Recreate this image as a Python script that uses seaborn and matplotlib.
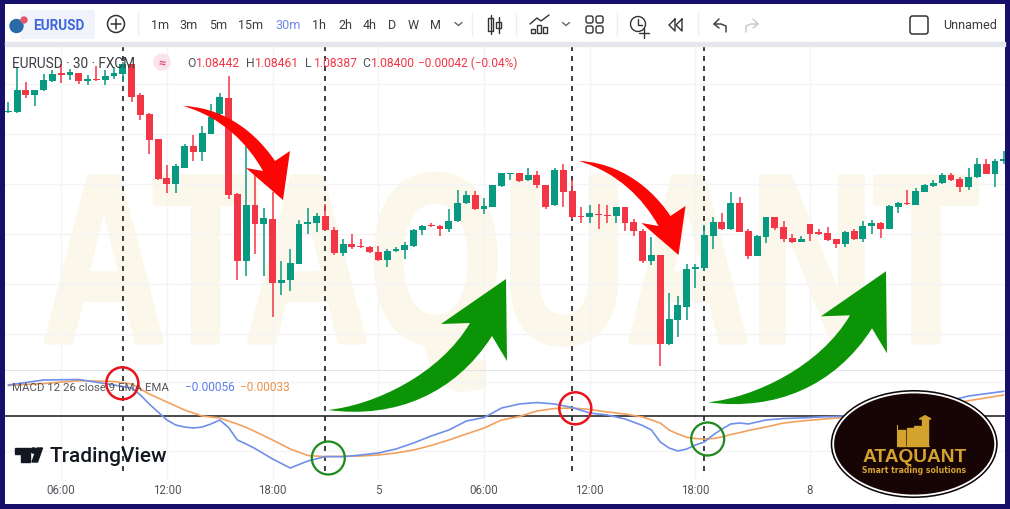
"""
EURUSD 30 minute candles with MACD pane, TradingView style screenshot
"""

import numpy as np
import pandas as pd
import matplotlib.pyplot as plt
import matplotlib.patheffects as pe
from matplotlib.patches import Circle, Ellipse, FancyBboxPatch, PathPatch, Polygon, Rectangle
from matplotlib.path import Path
from matplotlib.transforms import Affine2D
import seaborn as sns

sns.set_style("white")
plt.rcParams['font.family'] = ['Roboto', 'DejaVu Sans']

# candle prices, in points above 1.08000
opens = [773, 773, 818, 807, 817, 836, 851, 847, 852, 835, 839, 837, 845, 850, 870, 807, 769, 719, 642, 630,
         663, 705, 693, 730, 770, 802, 609, 475, 588, 549, 561, 433, 437, 470, 551, 552, 565, 538, 492, 509,
         505, 503, 493, 478, 495, 498, 506, 537, 547, 545, 540, 555, 591, 607, 579, 585, 625, 650, 651, 637,
         647, 628, 587, 657, 615, 565, 563, 570, 567, 566, 584, 554, 536, 475, 487, 309, 358, 385, 459, 461,
         525, 553, 539, 592, 535, 487, 523, 563, 544, 521, 514, 549, 533, 532, 519, 509, 535, 519, 545, 552,
         541, 585, 592, 588, 614, 625, 631, 648, 640, 623, 643, 670, 650, 675]
highs = [794, 864, 834, 818, 850, 858, 870, 859, 852, 847, 865, 857, 864, 874, 870, 811, 771, 720, 668, 670,
         710, 727, 745, 790, 812, 845, 612, 705, 647, 582, 613, 475, 500, 557, 582, 572, 590, 543, 521, 531,
         520, 507, 507, 499, 503, 513, 540, 548, 552, 547, 579, 617, 615, 616, 601, 628, 653, 653, 653, 661,
         655, 629, 663, 669, 639, 583, 588, 590, 588, 585, 585, 559, 541, 523, 487, 412, 405, 470, 470, 548,
         565, 572, 613, 603, 541, 527, 564, 564, 555, 529, 526, 550, 541, 543, 520, 535, 540, 555, 558, 553,
         588, 593, 617, 621, 630, 637, 652, 652, 643, 663, 682, 680, 679, 697]
lows = [772, 772, 802, 786, 816, 834, 832, 837, 830, 827, 836, 828, 840, 834, 795, 757, 690, 639, 612, 611,
        662, 675, 676, 730, 753, 599, 437, 445, 489, 445, 363, 409, 415, 470, 529, 533, 535, 488, 487, 499,
        501, 492, 477, 464, 494, 479, 503, 527, 543, 525, 533, 554, 590, 578, 569, 584, 624, 637, 633, 635,
        621, 580, 586, 585, 559, 552, 552, 540, 552, 552, 536, 525, 472, 468, 265, 308, 323, 357, 422, 455,
        500, 538, 538, 533, 480, 485, 512, 537, 513, 512, 513, 517, 527, 517, 502, 503, 518, 513, 529, 522,
        540, 571, 588, 587, 613, 624, 630, 635, 613, 617, 642, 649, 623, 670]
closes = [774, 818, 807, 818, 837, 850, 848, 853, 835, 839, 837, 846, 851, 870, 805, 767, 718, 640, 630, 665,
          705, 693, 731, 763, 803, 608, 475, 588, 549, 561, 433, 437, 471, 551, 553, 565, 537, 492, 509, 504,
          503, 493, 478, 496, 499, 508, 538, 545, 545, 541, 555, 592, 607, 579, 586, 627, 651, 652, 636, 647,
          627, 585, 657, 613, 563, 563, 571, 567, 566, 584, 552, 535, 475, 487, 310, 360, 387, 460, 463, 527,
          553, 539, 591, 533, 487, 525, 563, 542, 519, 513, 519, 531, 531, 518, 509, 534, 519, 546, 552, 541,
          586, 592, 589, 615, 627, 632, 648, 639, 623, 643, 670, 650, 676, 679]

# MACD pane, read at these candles, in units of 0.00001
macd_candles = [0, 4, 8, 12, 14, 15, 16, 17, 18, 19, 20, 21, 22, 23, 24, 25, 26, 27, 28, 30, 32, 34, 36, 38, 40, 42,
                44, 46, 48, 50, 52, 54, 56, 58, 60, 62, 64, 66, 68, 70, 72, 73, 74, 75, 76, 77, 78, 79, 80, 81, 82,
                83, 84, 86, 88, 90, 92, 94, 96, 100, 104, 109, 113]
macd_line = [31, 36, 36.5, 31, 28, 21, 12, 4, -4, -9, -11, -12, -11, -8, -4, -11.5, -24, -28, -32.5, -43, -52, -45,
             -40.5, -40.7, -39, -37, -33, -27, -20, -14, -5, -1.5, 8, 12, 13.5, 12, 8.5, 3, 1, -3, -9.5, -14, -26,
             -32, -35, -33, -29, -26, -19, -13, -8, -7, -8, -4, -2.5, -2, -1, -0.5, 1, 5, 9, 20, 24.7]
signal_line = [30.5, 32.5, 35.3, 34.5, 32, 27, 22, 18, 14, 10, 6, 3, 0, -1, -2, -5, -8, -11.5, -15.5, -24, -33, -39.5,
               -40.7, -40.3, -40, -39, -37, -34, -29.5, -24, -18, -12, -4, -0.5, 5, 7.5, 8, 6.5, 4, 2, -1, -4, -7,
               -14, -18, -21.3, -22.5, -23, -22.5, -21, -18.5, -16.7, -14.5, -11, -7, -5, -3.5, -2, -1, 2, 6, 15.3, 21]

tick_candles = [6, 18, 30, 42, 54, 66, 78, 91]
tick_labels = ['06:00', '12:00', '18:00', '5', '06:00', '12:00', '18:00', '8']
signal_candles = [13, 36, 64, 79]
intervals = ['1m', '3m', '5m', '15m', '30m', '1h', '2h', '4h', 'D', 'W', 'M']
ohlc_readout = [('O', '1.08442'), ('H', '1.08461'), ('L', '1.08387'), ('C', '1.08400')]

W, H = 1010, 510
NAVY = '#17106a'
RED = '#f23645'
GREEN = '#089981'
GREY = '#4f5159'
GOLD = '#d3a32e'


class StretchText(pe.AbstractPathEffect):
    """Stretch and thicken the glyphs of a text about its baseline"""

    def __init__(self, sx, sy, stroke):
        super().__init__()
        self.sx = sx
        self.sy = sy
        self.stroke = stroke

    def draw_path(self, renderer, gc, tpath, affine, rgbFace=None):
        gc0 = renderer.new_gc()
        gc0.copy_properties(gc)
        gc0.set_linewidth(self.stroke)
        gc0.set_joinstyle('round')
        renderer.draw_path(gc0, tpath, Affine2D().scale(self.sx, self.sy) + affine, rgbFace)
        gc0.restore()


def pane(left, top, right, bottom, zorder):
    """Axes placed by its pixel box"""
    ax = fig.add_axes([left / W, 1 - bottom / H, (right - left) / W, (bottom - top) / H], zorder=zorder)
    ax.patch.set_alpha(0)
    return ax


def draw_candles(ax):
    o, h, l, c = [1.08 + np.array(v) * 1e-5 for v in (opens, highs, lows, closes)]
    x = np.arange(len(o))
    colors = [GREEN if cl >= op else RED for op, cl in zip(o, c)]
    ax.vlines(x, l, h, colors=colors, linewidth=1.1, zorder=3)
    ax.bar(x, np.maximum(np.abs(c - o), 2e-5), bottom=np.minimum(o, c), width=0.78, color=colors, linewidth=0, zorder=3)


def draw_macd(ax):
    df = pd.DataFrame({'candle': macd_candles,
                       'macd': np.array(macd_line) * 1e-5,
                       'signal': np.array(signal_line) * 1e-5})
    sns.lineplot(data=df, x='candle', y='signal', ax=ax, color='#f2a15f', linewidth=1.2, zorder=3)
    sns.lineplot(data=df, x='candle', y='macd', ax=ax, color='#6f8fe8', linewidth=1.2, zorder=3)
    ax.axhline(0, color='#2a2a2e', linewidth=1.2, zorder=2)


def curved_arrow(ax, dx, dy, start, out1, out2, out_end, head, in1, in2, color):
    """Block arrow with a curved shaft, shifted by dx, dy"""
    verts = [start, out1, out2, out_end] + head + [in1, in2, start, start]
    codes = [Path.MOVETO, Path.CURVE4, Path.CURVE4, Path.CURVE4] + [Path.LINETO] * len(head) + \
            [Path.CURVE4, Path.CURVE4, Path.CURVE4, Path.CLOSEPOLY]
    verts = [(x + dx, y + dy) for x, y in verts]
    ax.add_patch(PathPatch(Path(verts, codes), facecolor=color, edgecolor='none', zorder=6))


def draw_arrows(ax):
    for dx, dy in [(0, 0), (395.5, 55)]:
        curved_arrow(ax, dx, dy, (183, 107), (215, 108), (250, 125), (275, 162),
                     [(290, 152), (283, 201), (246, 169), (263, 172)], (248, 145), (222, 118), '#fb0505')
    for dx, dy in [(0, 0), (380, -7.7)]:
        curved_arrow(ax, dx, dy, (328, 411), (375, 406), (440, 375), (470, 324),
                     [(441, 325), (506, 280), (507, 362), (492, 337)], (455, 395), (395, 420), '#0b9406')


def draw_toolbar(ax):
    ax.add_patch(Rectangle((5, 43), 1000, 4, color='#e6e7ee', zorder=1))
    ax.add_patch(FancyBboxPatch((20, 11), 75, 29, boxstyle='round,pad=0,rounding_size=3', fc='#f1f3fb', ec='none'))
    ax.add_patch(Circle((16.5, 27), 6.5, color='#2a6aa8'))
    ax.add_patch(Circle((24, 21), 3, color='#e2566a'))
    ax.text(33, 25.5, 'EURUSD', color='#3f66dd', fontsize=9.8, fontweight='bold', va='center')
    ax.add_patch(Circle((116, 25), 8.5, fc='none', ec='#333', lw=1.1))
    ax.plot([111, 121], [25, 25], color='#333', lw=1.1)
    ax.plot([116, 116], [20, 30], color='#333', lw=1.1)
    for x in [138, 472, 516, 616.5, 697.5]:
        ax.plot([x, x], [14, 36], color='#eeeeef', lw=1)
    positions = [160, 189, 218, 251, 288, 319, 345, 370, 392.5, 413, 435]
    for label, x in zip(intervals, positions):
        ax.text(x, 25.5, label, fontsize=9, ha='center', va='center', color='#7088e8' if label == '30m' else '#3a3b42')
    for x in [458.5, 566]:
        ax.plot([x - 3.5, x, x + 3.5], [23.5, 26.5, 23.5], color='#666', lw=1)

    # candle type icon
    for x, low, high, top, bottom in [(490.5, 16, 35, 19, 32), (498.5, 18, 34, 23, 29)]:
        ax.plot([x, x], [low, high], color='#333', lw=1)
        ax.add_patch(Rectangle((x - 2.5, top), 5, bottom - top, fc='white', ec='#333', lw=1))
    # indicators icon
    ax.plot([530, 537, 541, 549], [25, 19, 22, 16], color='#333', lw=1)
    for x, top in [(531, 30), (537, 26), (543, 28)]:
        ax.add_patch(Rectangle((x, top), 4, 34 - top, fc='none', ec='#333', lw=1))
    # layout icon
    for x in [586, 596]:
        for y in [17, 27]:
            ax.add_patch(FancyBboxPatch((x, y), 7, 7, boxstyle='round,pad=0,rounding_size=2', fc='none', ec='#333', lw=1))
    # alarm icon
    ax.add_patch(Circle((638, 25), 7.5, fc='none', ec='#333', lw=1))
    ax.plot([638, 638, 642], [20, 26, 26], color='#333', lw=1)
    ax.plot([644, 644], [29, 39], color='#333', lw=1)
    ax.plot([639, 649], [34, 34], color='#333', lw=1)
    # replay icon
    ax.plot([675, 669, 675, 675], [20, 26, 32, 20], color='#333', lw=1)
    ax.plot([682, 676, 682, 682], [20, 26, 32, 20], color='#333', lw=1)
    # undo and redo
    ax.plot([726, 726, 721, 714, 719], [33, 27, 25, 25, 20], color='#444', lw=1.1)
    ax.plot([714, 719], [25, 29], color='#444', lw=1.1)
    ax.plot([746, 746, 751, 758, 753], [33, 27, 25, 25, 20], color='#ccc', lw=1.1)
    ax.plot([758, 753], [25, 29], color='#ccc', lw=1.1)
    ax.add_patch(FancyBboxPatch((910, 17), 18, 18, boxstyle='round,pad=0,rounding_size=2.5', fc='none', ec='#333', lw=1.1))
    ax.text(970, 25.5, 'Unnamed', fontsize=9, ha='center', va='center', color='#3a3b42')


def draw_legends(ax):
    ax.text(12, 63.5, 'EURUSD · 30 · FXCM', fontsize=9.8, va='center', color='#3b3c42')
    ax.add_patch(Circle((162, 63), 8, color='#fae3ec'))
    ax.text(162, 63, '≈', fontsize=9, ha='center', va='center', color='#e04f87', fontweight='bold')
    for (name, value), x in zip(ohlc_readout, [187, 246, 305, 362]):
        ax.text(x, 63.5, name, fontsize=8.7, va='center', color=GREY)
        ax.text(x + 9, 63.5, value, fontsize=8.7, va='center', color=RED)
    ax.text(418, 63.5, '−0.00042 (−0.04%)', fontsize=8.6, va='center', color=RED)
    ax.text(12, 388, 'MACD 12 26 close 9 EMA EMA', fontsize=8.2, va='center', color='#55565c')
    ax.text(185, 388, '−0.00056', fontsize=8.6, va='center', color='#5b7fe6')
    ax.text(240, 388, '−0.00033', fontsize=8.6, va='center', color='#ee9148')


def draw_markers(ax):
    ax.add_patch(Circle((122.3, 384.3), 16, fc='none', ec='#e8141c', lw=1.8, zorder=7))
    ax.add_patch(Circle((575.3, 409.3), 16, fc='none', ec='#e8141c', lw=1.8, zorder=7))
    ax.add_patch(Circle((328.3, 459), 16.5, fc='none', ec='#1d8a1d', lw=1.6, zorder=7))
    ax.add_patch(Circle((707.7, 440), 16.5, fc='none', ec='#1d8a1d', lw=1.6, zorder=7))


def draw_tradingview(ax):
    ink = '#131722'
    ax.add_patch(Polygon([(15, 449), (30, 449), (30, 463), (21, 463), (21, 454.5), (15, 454.5)], color=ink))
    ax.add_patch(Circle((33.5, 451.5), 2.6, color=ink))
    ax.add_patch(Polygon([(32, 463), (37, 449), (42.5, 449), (37.5, 463)], color=ink))
    ax.text(50, 456.5, 'TradingView', fontsize=15, fontweight='medium', va='center', color=ink)


def draw_badge(ax):
    ax.add_patch(Ellipse((914.2, 445), 167, 108, fc='#0c0506', ec='none', zorder=8))
    ax.add_patch(Ellipse((914.2, 445), 162, 103, fc='#170506', ec='white', lw=1.3, zorder=8))
    for x, top in [(898.3, 431), (906.7, 429.3), (914.3, 427.3), (921.7, 420)]:
        ax.add_patch(Rectangle((x, top), 6.5, 446.7 - top, color=GOLD, zorder=9))
    ax.plot([896.7, 896.7, 929], [426, 446.7, 446.7], color=GOLD, lw=0.8, zorder=9)
    ax.add_patch(Polygon([(919.3, 420), (925, 416.7), (931, 420)], color=GOLD, zorder=9))
    ax.text(914.2, 457.5, 'ATAQUANT', fontsize=13.8, fontweight='bold', ha='center', va='center', color=GOLD,
            family=['Liberation Sans'], zorder=9)
    ax.text(914.5, 470.5, 'Smart trading solutions', fontsize=5.6, fontweight='bold', ha='center', va='center',
            color=GOLD, family=['DejaVu Sans'], zorder=9)


fig = plt.figure(figsize=(W / 100, H / 100), dpi=100, facecolor=NAVY)

# white sheet with the watermark behind the panes
back = pane(5, 5, 1005, 505, 0)
back.patch.set_alpha(1)
back.patch.set_facecolor('white')
back.set_xlim(5, 1005)
back.set_ylim(505, 5)
back.set_xticks([])
back.set_yticks([])
sns.despine(ax=back, left=True, bottom=True)
watermark = back.text(42, 343, 'ATAQUANT', fontsize=121, fontweight='bold', color='#fbf7ea', family=['Liberation Sans'],
                      va='baseline', path_effects=[StretchText(1.02, 1.43, 3.6)])
watermark.set_clip_path(Rectangle((5, 47), 1000, 325, transform=back.transData))

# candle index runs so that candle 0 sits 3 px inside the sheet
x_limits = (-0.375, 113.13)

price_ax = pane(5, 47, 1005, 372, 1)
draw_candles(price_ax)
price_ax.set_xlim(*x_limits)
price_ax.set_ylim(1.08256, 1.08906)
price_ax.set_yticks([1.0833, 1.0843, 1.0853, 1.0863, 1.0873, 1.0883])
price_ax.set_xticks(tick_candles)
price_ax.grid(True, color='#f4f4f6', linewidth=1)
price_ax.tick_params(left=False, bottom=False, labelleft=False, labelbottom=False)
price_ax.set_xlabel('')
price_ax.set_ylabel('')

macd_ax = pane(5, 372, 1005, 481, 1)
draw_macd(macd_ax)
macd_ax.set_xlim(*x_limits)
macd_ax.set_ylim(-64e-5, 45e-5)
macd_ax.set_yticks([34e-5, -34.7e-5])
macd_ax.set_xticks(tick_candles)
macd_ax.set_xticklabels(tick_labels, fontsize=8.3, color='#55565c')
macd_ax.grid(True, color='#f4f4f6', linewidth=1)
macd_ax.tick_params(left=False, bottom=False, labelleft=False, pad=-1)
macd_ax.set_xlabel('')
macd_ax.set_ylabel('')
for ax in (price_ax, macd_ax):
    sns.despine(ax=ax, left=True, bottom=True)
    ax.set_axisbelow(True)
price_ax.axhline(1.08256, color='#e4e4e8', linewidth=1.5)

for candle in signal_candles:
    price_ax.axvline(candle, color='#1c1c20', linewidth=1.2, linestyle=(0, (3, 3)), zorder=2)
    macd_ax.axvline(candle, ymin=0.08, color='#1c1c20', linewidth=1.2, linestyle=(0, (3, 3)), zorder=2)

# annotations are placed in pixels on a sheet over everything
deco = pane(0, 0, W, H, 2)
deco.set_xlim(0, W)
deco.set_ylim(H, 0)
deco.axis('off')
draw_toolbar(deco)
draw_legends(deco)
draw_arrows(deco)
draw_markers(deco)
draw_tradingview(deco)
draw_badge(deco)

plt.savefig('out.png', dpi=100, facecolor=NAVY)
plt.close()
